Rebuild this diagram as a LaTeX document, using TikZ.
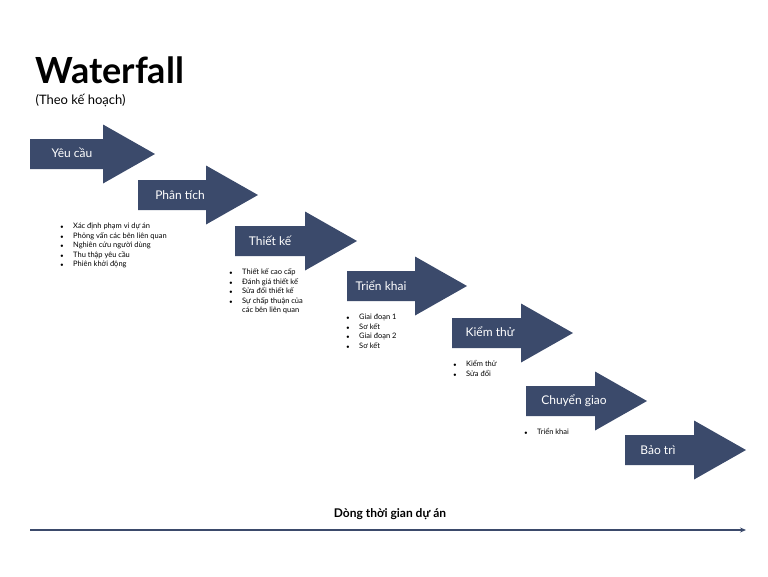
\documentclass[tikz,border=0pt]{standalone}
\usepackage{fontspec}
\setmainfont{Lato}
\usetikzlibrary{arrows.meta}
\definecolor{navy}{HTML}{3B4A6B}
\newcommand{\blist}[1]{\begin{tabular}{@{}p{13pt}@{}l@{}}#1\end{tabular}}
\newcommand{\bi}{{\fontsize{5}{5}\selectfont$\bullet$}&}
\begin{document}
\begin{tikzpicture}[x=1pt,y=-1pt,
  stagearrow/.style={fill=navy},
  steplabel/.style={text=white,font=\fontsize{12}{14}\selectfont},
  notes/.style={anchor=north west,inner sep=0pt,font=\fontsize{7.5}{9.5}\selectfont}]
\useasboundingbox (0,0) rectangle (768,576);

% title
\node[anchor=west,font=\fontsize{36}{40}\selectfont\bfseries] (title) at (32,70) {Waterfall};
\node[anchor=west,font=\fontsize{13}{15}\selectfont] (sub) at (32,100) {(Theo kế hoạch)};

% the stage arrows: left, right of body, centre y
\foreach \l/\r/\c in {30/103/154, 138/206/195, 235/305/241, 347/415/286, 452/521/333, 526/595/401, 625/694/450}
  \fill[stagearrow] (\l,\c-15) -- (\r,\c-15) -- (\r,\c-29.5) -- (\r+52,\c) -- (\r,\c+29.5) -- (\r,\c+15) -- (\l,\c+15) -- cycle;

\node[steplabel] (s1) at (72,153) {Yêu cầu};
\node[steplabel] (s2) at (180,195) {Phân tích};
\node[steplabel] (s3) at (270,241) {Thiết kế};
\node[steplabel] (s4) at (381,286) {Triển khai};
\node[steplabel] (s5) at (490,332) {Kiểm thử};
\node[steplabel] (s6) at (574,401) {Chuyển giao};
\node[steplabel] (s7) at (658,450) {Bảo trì};

% notes under each stage
\node[notes] (n1) at (60,222) {\blist{\bi Xác định phạm vi dự án\\ \bi Phỏng vấn các bên liên quan\\ \bi Nghiên cứu người dùng\\ \bi Thu thập yêu cầu\\ \bi Phiên khởi động}};
\node[notes] (n2) at (229,268) {\blist{\bi Thiết kế cao cấp\\ \bi Đánh giá thiết kế\\ \bi Sửa đổi thiết kế\\ \bi Sự chấp thuận của\\ & các bên liên quan}};
\node[notes] (n3) at (346,313) {\blist{\bi Giai đoạn 1\\ \bi Sơ kết\\ \bi Giai đoạn 2\\ \bi Sơ kết}};
\node[notes] (n4) at (453,360) {\blist{\bi Kiểm thử\\ \bi Sửa đổi}};
\node[notes] (n5) at (524,428) {\blist{\bi Triển khai}};

% timeline
\coordinate (t0) at (30,530);
\coordinate (t1) at (746,530);
\draw[navy,line width=2pt,-{Stealth[length=6pt,width=5pt]}] (t0) -- (t1);
\node[font=\fontsize{12}{14}\selectfont\bfseries] (tl) at (390,514) {Dòng thời gian dự án};
\end{tikzpicture}
\end{document}
